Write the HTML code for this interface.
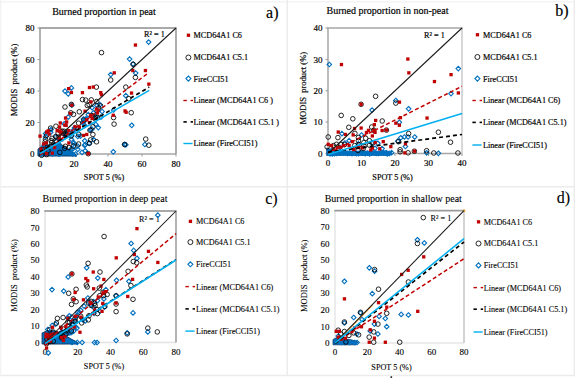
<!DOCTYPE html><html><head><meta charset="utf-8"><style>
html,body{margin:0;padding:0;background:#fff;width:575px;height:378px;overflow:hidden}
svg{display:block}
text{font-family:"Liberation Serif", serif;fill:#000;stroke:#000;stroke-width:0.18px}
.pc text,.pd text{stroke-width:0.1px}
</style></head><body>
<svg width="575" height="378" viewBox="0 0 575 378">
<rect x="0" y="0" width="575" height="378" fill="#fff"/>
<g stroke="#ececec" stroke-width="1.5" fill="none">
<line x1="0.5" y1="1.8" x2="575" y2="1.8" stroke="#f4f4f4"/>
<line x1="287.2" y1="0" x2="287.2" y2="376"/>
<line x1="0" y1="186.8" x2="575" y2="186.8"/>
<line x1="0" y1="375.5" x2="575" y2="375.5"/>
<line x1="0.5" y1="0" x2="0.5" y2="376" stroke="#f2f2f2"/>
<line x1="574.3" y1="0" x2="574.3" y2="376"/>
</g>
<g class="pa">
<line x1="40" y1="28" x2="40" y2="154" stroke="#999999" stroke-width="1.5"/>
<line x1="40" y1="154" x2="176" y2="154" stroke="#a6a6a6" stroke-width="1.5"/>
<line x1="39.3" y1="28" x2="176.7" y2="28" stroke="#8c8c8c" stroke-width="1.6"/>
<line x1="176" y1="28" x2="176" y2="154" stroke="#999999" stroke-width="1.6"/>
<line x1="37.5" y1="154.0" x2="40" y2="154.0" stroke="#9a9a9a" stroke-width="1"/>
<text x="34.5" y="157.1" text-anchor="end" font-size="9">0</text>
<line x1="37.5" y1="122.5" x2="40" y2="122.5" stroke="#9a9a9a" stroke-width="1"/>
<text x="34.5" y="125.6" text-anchor="end" font-size="9">20</text>
<line x1="37.5" y1="91.0" x2="40" y2="91.0" stroke="#9a9a9a" stroke-width="1"/>
<text x="34.5" y="94.1" text-anchor="end" font-size="9">40</text>
<line x1="37.5" y1="59.5" x2="40" y2="59.5" stroke="#9a9a9a" stroke-width="1"/>
<text x="34.5" y="62.6" text-anchor="end" font-size="9">60</text>
<line x1="37.5" y1="28.0" x2="40" y2="28.0" stroke="#9a9a9a" stroke-width="1"/>
<text x="34.5" y="31.1" text-anchor="end" font-size="9">80</text>
<line x1="40.0" y1="154" x2="40.0" y2="156.5" stroke="#9a9a9a" stroke-width="1"/>
<text x="40.0" y="166.5" text-anchor="middle" font-size="9">0</text>
<line x1="74.0" y1="154" x2="74.0" y2="156.5" stroke="#9a9a9a" stroke-width="1"/>
<text x="74.0" y="166.5" text-anchor="middle" font-size="9">20</text>
<line x1="108.0" y1="154" x2="108.0" y2="156.5" stroke="#9a9a9a" stroke-width="1"/>
<text x="108.0" y="166.5" text-anchor="middle" font-size="9">40</text>
<line x1="142.0" y1="154" x2="142.0" y2="156.5" stroke="#9a9a9a" stroke-width="1"/>
<text x="142.0" y="166.5" text-anchor="middle" font-size="9">60</text>
<line x1="176.0" y1="154" x2="176.0" y2="156.5" stroke="#9a9a9a" stroke-width="1"/>
<text x="176.0" y="166.5" text-anchor="middle" font-size="9">80</text>
<text x="104" y="14.5" text-anchor="middle" font-size="10">Burned proportion in peat</text>
<text x="278.5" y="18.2" text-anchor="end" font-size="16">a)</text>
<text x="104" y="180" text-anchor="middle" font-size="8.2">SPOT 5 (%)</text>
<text transform="translate(17.3,80) rotate(-90)" text-anchor="middle" font-size="8.5">MODIS&#160; product (%)</text>
<rect x="186.8" y="33.6" width="3.3" height="3.3" fill="#c00000"/>
<circle cx="188.4" cy="57.5" r="2.5" fill="none" stroke="#000" stroke-width="0.85"/>
<path d="M188.4 76.1L190.9 78.6L188.4 81.1L185.9 78.6Z" fill="none" stroke="#0070c0" stroke-width="1.1"/>
<rect x="183.4" y="99.8" width="3.4" height="1.4" fill="#c00000"/><rect x="190.6" y="99.8" width="2.4" height="1.4" fill="#c00000"/>
<rect x="183.4" y="121.10000000000001" width="3.4" height="1.6" fill="#000"/><rect x="190.6" y="121.10000000000001" width="2.4" height="1.6" fill="#000"/>
<rect x="183.4" y="142.8" width="9.2" height="1.4" fill="#00b0f0"/>
<text x="193.5" y="38.1" font-size="8.2">MCD64A1 C6</text>
<text x="193.5" y="60.4" font-size="8.2">MCD64A1 C5.1</text>
<text x="193.5" y="81.5" font-size="8.2">FireCCI51</text>
<text x="193.5" y="103.4" font-size="8.2">Linear (MCD64A1 C6 )</text>
<text x="193.5" y="124.8" font-size="8.2">Linear (MCD64A1 C5.1 )</text>
<text x="193.5" y="146.4" font-size="8.2">Linear (FireCCI51)</text>
<text x="144" y="36.6" font-size="8.2">R² = 1</text>
<path d="M38,149 L44,146 L52,144 L58,143 L64,146 L70,151 L75,154 L77,156 L38,156 Z" fill="#0070c0" stroke="#0a3a6a" stroke-width="1"/>
<path d="M148.6 39.8L150.9 42.1L148.6 44.4L146.3 42.1Z" fill="none" stroke="#0070c0" stroke-width="1.1"/>
<path d="M129.6 56.8L131.9 59.1L129.6 61.4L127.3 59.1Z" fill="none" stroke="#0070c0" stroke-width="1.1"/>
<path d="M133.1 61.7L135.4 64.0L133.1 66.3L130.8 64.0Z" fill="none" stroke="#0070c0" stroke-width="1.1"/>
<path d="M135.7 70.8L138.0 73.1L135.7 75.4L133.4 73.1Z" fill="none" stroke="#0070c0" stroke-width="1.1"/>
<path d="M110.7 72.3L113.0 74.6L110.7 76.9L108.4 74.6Z" fill="none" stroke="#0070c0" stroke-width="1.1"/>
<path d="M65.0 88.8L67.3 91.1L65.0 93.4L62.7 91.1Z" fill="none" stroke="#0070c0" stroke-width="1.1"/>
<path d="M68.2 91.5L70.5 93.8L68.2 96.1L65.9 93.8Z" fill="none" stroke="#0070c0" stroke-width="1.1"/>
<path d="M71.4 85.6L73.7 87.9L71.4 90.2L69.1 87.9Z" fill="none" stroke="#0070c0" stroke-width="1.1"/>
<path d="M71.9 102.9L74.2 105.2L71.9 107.5L69.6 105.2Z" fill="none" stroke="#0070c0" stroke-width="1.1"/>
<path d="M68.2 114.8L70.5 117.1L68.2 119.4L65.9 117.1Z" fill="none" stroke="#0070c0" stroke-width="1.1"/>
<path d="M131.7 123.0L134.0 125.3L131.7 127.6L129.4 125.3Z" fill="none" stroke="#0070c0" stroke-width="1.1"/>
<path d="M113.6 107.7L115.9 110.0L113.6 112.3L111.3 110.0Z" fill="none" stroke="#0070c0" stroke-width="1.1"/>
<path d="M124.6 142.2L126.9 144.5L124.6 146.8L122.3 144.5Z" fill="none" stroke="#0070c0" stroke-width="1.1"/>
<path d="M113.3 149.5L115.6 151.8L113.3 154.1L111.0 151.8Z" fill="none" stroke="#0070c0" stroke-width="1.1"/>
<path d="M93.7 137.3L96.0 139.6L93.7 141.9L91.4 139.6Z" fill="none" stroke="#0070c0" stroke-width="1.1"/>
<path d="M98.3 125.3L100.6 127.6L98.3 129.9L96.0 127.6Z" fill="none" stroke="#0070c0" stroke-width="1.1"/>
<path d="M90.6 127.6L92.9 129.9L90.6 132.2L88.3 129.9Z" fill="none" stroke="#0070c0" stroke-width="1.1"/>
<path d="M102.1 109.2L104.4 111.5L102.1 113.8L99.8 111.5Z" fill="none" stroke="#0070c0" stroke-width="1.1"/>
<path d="M92.1 105.4L94.4 107.7L92.1 110.0L89.8 107.7Z" fill="none" stroke="#0070c0" stroke-width="1.1"/>
<path d="M88.3 112.3L90.6 114.6L88.3 116.9L86.0 114.6Z" fill="none" stroke="#0070c0" stroke-width="1.1"/>
<path d="M144.9 142.2L147.2 144.5L144.9 146.8L142.6 144.5Z" fill="none" stroke="#0070c0" stroke-width="1.1"/>
<path d="M125.8 142.5L128.1 144.8L125.8 147.1L123.5 144.8Z" fill="none" stroke="#0070c0" stroke-width="1.1"/>
<path d="M125.8 93.4L128.1 95.7L125.8 98.0L123.5 95.7Z" fill="none" stroke="#0070c0" stroke-width="1.1"/>
<path d="M51.1 127.3L53.4 129.6L51.1 131.9L48.8 129.6Z" fill="none" stroke="#0070c0" stroke-width="1.1"/>
<path d="M45.6 134.3L47.9 136.6L45.6 138.9L43.3 136.6Z" fill="none" stroke="#0070c0" stroke-width="1.1"/>
<path d="M95.8 122.1L98.1 124.4L95.8 126.7L93.5 124.4Z" fill="none" stroke="#0070c0" stroke-width="1.1"/>
<path d="M77.8 134.2L80.1 136.5L77.8 138.8L75.5 136.5Z" fill="none" stroke="#0070c0" stroke-width="1.1"/>
<path d="M77.8 147.0L80.1 149.3L77.8 151.6L75.5 149.3Z" fill="none" stroke="#0070c0" stroke-width="1.1"/>
<path d="M82.0 150.1L84.3 152.4L82.0 154.7L79.7 152.4Z" fill="none" stroke="#0070c0" stroke-width="1.1"/>
<path d="M85.2 148.5L87.5 150.8L85.2 153.1L82.9 150.8Z" fill="none" stroke="#0070c0" stroke-width="1.1"/>
<path d="M82.8 120.5L85.1 122.8L82.8 125.1L80.5 122.8Z" fill="none" stroke="#0070c0" stroke-width="1.1"/>
<path d="M96.9 103.2L99.2 105.5L96.9 107.8L94.6 105.5Z" fill="none" stroke="#0070c0" stroke-width="1.1"/>
<path d="M65.2 131.9L67.5 134.2L65.2 136.5L62.9 134.2Z" fill="none" stroke="#0070c0" stroke-width="1.1"/>
<path d="M71.8 133.4L74.1 135.7L71.8 138.0L69.5 135.7Z" fill="none" stroke="#0070c0" stroke-width="1.1"/>
<path d="M84.6 123.0L86.9 125.3L84.6 127.6L82.3 125.3Z" fill="none" stroke="#0070c0" stroke-width="1.1"/>
<path d="M74.6 125.4L76.9 127.7L74.6 130.0L72.3 127.7Z" fill="none" stroke="#0070c0" stroke-width="1.1"/>
<path d="M50.2 145.3L52.5 147.6L50.2 149.9L47.9 147.6Z" fill="none" stroke="#0070c0" stroke-width="1.1"/>
<path d="M91.9 126.9L94.2 129.2L91.9 131.5L89.6 129.2Z" fill="none" stroke="#0070c0" stroke-width="1.1"/>
<path d="M49.9 149.6L52.2 151.9L49.9 154.2L47.6 151.9Z" fill="none" stroke="#0070c0" stroke-width="1.1"/>
<path d="M93.4 110.6L95.7 112.9L93.4 115.2L91.1 112.9Z" fill="none" stroke="#0070c0" stroke-width="1.1"/>
<path d="M46.9 148.4L49.2 150.7L46.9 153.0L44.6 150.7Z" fill="none" stroke="#0070c0" stroke-width="1.1"/>
<path d="M73.7 127.5L76.0 129.8L73.7 132.1L71.4 129.8Z" fill="none" stroke="#0070c0" stroke-width="1.1"/>
<path d="M80.4 133.8L82.7 136.1L80.4 138.4L78.1 136.1Z" fill="none" stroke="#0070c0" stroke-width="1.1"/>
<path d="M83.5 119.5L85.8 121.8L83.5 124.1L81.2 121.8Z" fill="none" stroke="#0070c0" stroke-width="1.1"/>
<path d="M86.1 116.4L88.4 118.7L86.1 121.0L83.8 118.7Z" fill="none" stroke="#0070c0" stroke-width="1.1"/>
<path d="M48.7 146.5L51.0 148.8L48.7 151.1L46.4 148.8Z" fill="none" stroke="#0070c0" stroke-width="1.1"/>
<path d="M96.0 114.5L98.3 116.8L96.0 119.1L93.7 116.8Z" fill="none" stroke="#0070c0" stroke-width="1.1"/>
<path d="M68.7 129.7L71.0 132.0L68.7 134.3L66.4 132.0Z" fill="none" stroke="#0070c0" stroke-width="1.1"/>
<path d="M83.4 116.7L85.7 119.0L83.4 121.3L81.1 119.0Z" fill="none" stroke="#0070c0" stroke-width="1.1"/>
<path d="M44.4 142.6L46.7 144.9L44.4 147.2L42.1 144.9Z" fill="none" stroke="#0070c0" stroke-width="1.1"/>
<path d="M57.4 142.8L59.7 145.1L57.4 147.4L55.1 145.1Z" fill="none" stroke="#0070c0" stroke-width="1.1"/>
<path d="M56.1 139.0L58.4 141.3L56.1 143.6L53.8 141.3Z" fill="none" stroke="#0070c0" stroke-width="1.1"/>
<path d="M47.1 146.2L49.4 148.5L47.1 150.8L44.8 148.5Z" fill="none" stroke="#0070c0" stroke-width="1.1"/>
<path d="M100.0 102.4L102.3 104.7L100.0 107.0L97.7 104.7Z" fill="none" stroke="#0070c0" stroke-width="1.1"/>
<path d="M73.1 128.8L75.4 131.1L73.1 133.4L70.8 131.1Z" fill="none" stroke="#0070c0" stroke-width="1.1"/>
<path d="M42.9 148.5L45.2 150.8L42.9 153.1L40.6 150.8Z" fill="none" stroke="#0070c0" stroke-width="1.1"/>
<path d="M66.7 130.1L69.0 132.4L66.7 134.7L64.4 132.4Z" fill="none" stroke="#0070c0" stroke-width="1.1"/>
<path d="M100.9 114.9L103.2 117.2L100.9 119.5L98.6 117.2Z" fill="none" stroke="#0070c0" stroke-width="1.1"/>
<path d="M64.2 121.5L66.5 123.8L64.2 126.1L61.9 123.8Z" fill="none" stroke="#0070c0" stroke-width="1.1"/>
<path d="M85.2 142.4L87.5 144.7L85.2 147.0L82.9 144.7Z" fill="none" stroke="#0070c0" stroke-width="1.1"/>
<path d="M73.8 141.2L76.1 143.5L73.8 145.8L71.5 143.5Z" fill="none" stroke="#0070c0" stroke-width="1.1"/>
<path d="M89.3 140.9L91.6 143.2L89.3 145.5L87.0 143.2Z" fill="none" stroke="#0070c0" stroke-width="1.1"/>
<path d="M71.2 146.5L73.5 148.8L71.2 151.1L68.9 148.8Z" fill="none" stroke="#0070c0" stroke-width="1.1"/>
<path d="M84.7 138.5L87.0 140.8L84.7 143.1L82.4 140.8Z" fill="none" stroke="#0070c0" stroke-width="1.1"/>
<path d="M77.6 143.7L79.9 146.0L77.6 148.3L75.3 146.0Z" fill="none" stroke="#0070c0" stroke-width="1.1"/>
<path d="M84.6 143.2L86.9 145.5L84.6 147.8L82.3 145.5Z" fill="none" stroke="#0070c0" stroke-width="1.1"/>
<path d="M73.2 139.9L75.5 142.2L73.2 144.5L70.9 142.2Z" fill="none" stroke="#0070c0" stroke-width="1.1"/>
<path d="M58.5 141.2L60.8 143.5L58.5 145.8L56.2 143.5Z" fill="none" stroke="#0070c0" stroke-width="1.1"/>
<path d="M45.6 131.2L47.9 133.5L45.6 135.8L43.3 133.5Z" fill="none" stroke="#0070c0" stroke-width="1.1"/>
<path d="M55.8 134.7L58.1 137.0L55.8 139.3L53.5 137.0Z" fill="none" stroke="#0070c0" stroke-width="1.1"/>
<path d="M72.8 146.5L75.1 148.8L72.8 151.1L70.5 148.8Z" fill="none" stroke="#0070c0" stroke-width="1.1"/>
<path d="M52.5 146.6L54.8 148.9L52.5 151.2L50.2 148.9Z" fill="none" stroke="#0070c0" stroke-width="1.1"/>
<path d="M65.6 134.1L67.9 136.4L65.6 138.7L63.3 136.4Z" fill="none" stroke="#0070c0" stroke-width="1.1"/>
<path d="M71.5 137.2L73.8 139.5L71.5 141.8L69.2 139.5Z" fill="none" stroke="#0070c0" stroke-width="1.1"/>
<path d="M44.9 150.9L47.2 153.2L44.9 155.5L42.6 153.2Z" fill="none" stroke="#0070c0" stroke-width="1.1"/>
<path d="M41.7 148.4L44.0 150.7L41.7 153.0L39.4 150.7Z" fill="none" stroke="#0070c0" stroke-width="1.1"/>
<path d="M50.7 130.0L53.0 132.3L50.7 134.6L48.4 132.3Z" fill="none" stroke="#0070c0" stroke-width="1.1"/>
<path d="M42.6 145.1L44.9 147.4L42.6 149.7L40.3 147.4Z" fill="none" stroke="#0070c0" stroke-width="1.1"/>
<path d="M41.6 151.7L43.9 154.0L41.6 156.3L39.3 154.0Z" fill="none" stroke="#0070c0" stroke-width="1.1"/>
<path d="M59.7 151.7L62.0 154.0L59.7 156.3L57.4 154.0Z" fill="none" stroke="#0070c0" stroke-width="1.1"/>
<path d="M75.6 151.7L77.9 154.0L75.6 156.3L73.3 154.0Z" fill="none" stroke="#0070c0" stroke-width="1.1"/>
<path d="M58.7 151.7L61.0 154.0L58.7 156.3L56.4 154.0Z" fill="none" stroke="#0070c0" stroke-width="1.1"/>
<path d="M52.6 151.7L54.9 154.0L52.6 156.3L50.3 154.0Z" fill="none" stroke="#0070c0" stroke-width="1.1"/>
<path d="M43.4 151.7L45.7 154.0L43.4 156.3L41.1 154.0Z" fill="none" stroke="#0070c0" stroke-width="1.1"/>
<path d="M72.4 151.7L74.7 154.0L72.4 156.3L70.1 154.0Z" fill="none" stroke="#0070c0" stroke-width="1.1"/>
<circle cx="101.5" cy="52.6" r="2.3" fill="none" stroke="#000" stroke-width="0.85"/>
<circle cx="133.1" cy="64.3" r="2.3" fill="none" stroke="#000" stroke-width="0.85"/>
<circle cx="135.4" cy="77.4" r="2.3" fill="none" stroke="#000" stroke-width="0.85"/>
<circle cx="110.7" cy="80.0" r="2.3" fill="none" stroke="#000" stroke-width="0.85"/>
<circle cx="82.5" cy="99.6" r="2.3" fill="none" stroke="#000" stroke-width="0.85"/>
<circle cx="85.7" cy="100.1" r="2.3" fill="none" stroke="#000" stroke-width="0.85"/>
<circle cx="65.0" cy="107.0" r="2.3" fill="none" stroke="#000" stroke-width="0.85"/>
<circle cx="71.4" cy="104.4" r="2.3" fill="none" stroke="#000" stroke-width="0.85"/>
<circle cx="79.3" cy="111.8" r="2.3" fill="none" stroke="#000" stroke-width="0.85"/>
<circle cx="70.8" cy="112.8" r="2.3" fill="none" stroke="#000" stroke-width="0.85"/>
<circle cx="73.5" cy="114.4" r="2.3" fill="none" stroke="#000" stroke-width="0.85"/>
<circle cx="87.3" cy="105.4" r="2.3" fill="none" stroke="#000" stroke-width="0.85"/>
<circle cx="131.2" cy="112.7" r="2.3" fill="none" stroke="#000" stroke-width="0.85"/>
<circle cx="113.6" cy="117.6" r="2.3" fill="none" stroke="#000" stroke-width="0.85"/>
<circle cx="114.1" cy="124.1" r="2.3" fill="none" stroke="#000" stroke-width="0.85"/>
<circle cx="124.6" cy="144.5" r="2.3" fill="none" stroke="#000" stroke-width="0.85"/>
<circle cx="88.3" cy="153.7" r="2.3" fill="none" stroke="#000" stroke-width="0.85"/>
<circle cx="90.6" cy="139.9" r="2.3" fill="none" stroke="#000" stroke-width="0.85"/>
<circle cx="92.9" cy="134.5" r="2.3" fill="none" stroke="#000" stroke-width="0.85"/>
<circle cx="92.9" cy="126.8" r="2.3" fill="none" stroke="#000" stroke-width="0.85"/>
<circle cx="100.6" cy="106.1" r="2.3" fill="none" stroke="#000" stroke-width="0.85"/>
<circle cx="89.1" cy="104.6" r="2.3" fill="none" stroke="#000" stroke-width="0.85"/>
<circle cx="96.7" cy="101.5" r="2.3" fill="none" stroke="#000" stroke-width="0.85"/>
<circle cx="145.7" cy="139.1" r="2.3" fill="none" stroke="#000" stroke-width="0.85"/>
<circle cx="148.8" cy="145.2" r="2.3" fill="none" stroke="#000" stroke-width="0.85"/>
<circle cx="96.4" cy="87.1" r="2.3" fill="none" stroke="#000" stroke-width="0.85"/>
<circle cx="91.3" cy="99.9" r="2.3" fill="none" stroke="#000" stroke-width="0.85"/>
<circle cx="125.8" cy="87.1" r="2.3" fill="none" stroke="#000" stroke-width="0.85"/>
<circle cx="128.8" cy="98.7" r="2.3" fill="none" stroke="#000" stroke-width="0.85"/>
<circle cx="50.6" cy="128.1" r="2.3" fill="none" stroke="#000" stroke-width="0.85"/>
<circle cx="58.1" cy="133.1" r="2.3" fill="none" stroke="#000" stroke-width="0.85"/>
<circle cx="90.0" cy="130.2" r="2.3" fill="none" stroke="#000" stroke-width="0.85"/>
<circle cx="77.8" cy="128.6" r="2.3" fill="none" stroke="#000" stroke-width="0.85"/>
<circle cx="78.8" cy="134.4" r="2.3" fill="none" stroke="#000" stroke-width="0.85"/>
<circle cx="73.5" cy="146.1" r="2.3" fill="none" stroke="#000" stroke-width="0.85"/>
<circle cx="69.0" cy="147.5" r="2.3" fill="none" stroke="#000" stroke-width="0.85"/>
<circle cx="65.0" cy="133.6" r="2.3" fill="none" stroke="#000" stroke-width="0.85"/>
<circle cx="45.4" cy="139.3" r="2.3" fill="none" stroke="#000" stroke-width="0.85"/>
<circle cx="95.0" cy="117.1" r="2.3" fill="none" stroke="#000" stroke-width="0.85"/>
<circle cx="46.6" cy="154.6" r="2.3" fill="none" stroke="#000" stroke-width="0.85"/>
<circle cx="91.9" cy="115.6" r="2.3" fill="none" stroke="#000" stroke-width="0.85"/>
<circle cx="78.6" cy="123.2" r="2.3" fill="none" stroke="#000" stroke-width="0.85"/>
<circle cx="98.6" cy="107.9" r="2.3" fill="none" stroke="#000" stroke-width="0.85"/>
<circle cx="48.0" cy="150.6" r="2.3" fill="none" stroke="#000" stroke-width="0.85"/>
<circle cx="55.7" cy="136.6" r="2.3" fill="none" stroke="#000" stroke-width="0.85"/>
<circle cx="41.6" cy="155.3" r="2.3" fill="none" stroke="#000" stroke-width="0.85"/>
<circle cx="42.5" cy="149.6" r="2.3" fill="none" stroke="#000" stroke-width="0.85"/>
<circle cx="83.9" cy="120.1" r="2.3" fill="none" stroke="#000" stroke-width="0.85"/>
<circle cx="58.3" cy="137.3" r="2.3" fill="none" stroke="#000" stroke-width="0.85"/>
<circle cx="97.1" cy="110.7" r="2.3" fill="none" stroke="#000" stroke-width="0.85"/>
<circle cx="95.2" cy="118.9" r="2.3" fill="none" stroke="#000" stroke-width="0.85"/>
<circle cx="51.7" cy="142.5" r="2.3" fill="none" stroke="#000" stroke-width="0.85"/>
<circle cx="62.3" cy="131.2" r="2.3" fill="none" stroke="#000" stroke-width="0.85"/>
<circle cx="97.4" cy="117.4" r="2.3" fill="none" stroke="#000" stroke-width="0.85"/>
<circle cx="63.1" cy="133.2" r="2.3" fill="none" stroke="#000" stroke-width="0.85"/>
<circle cx="64.2" cy="131.3" r="2.3" fill="none" stroke="#000" stroke-width="0.85"/>
<circle cx="78.6" cy="144.0" r="2.3" fill="none" stroke="#000" stroke-width="0.85"/>
<circle cx="96.5" cy="141.8" r="2.3" fill="none" stroke="#000" stroke-width="0.85"/>
<circle cx="89.4" cy="143.3" r="2.3" fill="none" stroke="#000" stroke-width="0.85"/>
<circle cx="47.2" cy="147.4" r="2.3" fill="none" stroke="#000" stroke-width="0.85"/>
<circle cx="59.8" cy="130.8" r="2.3" fill="none" stroke="#000" stroke-width="0.85"/>
<circle cx="67.0" cy="135.1" r="2.3" fill="none" stroke="#000" stroke-width="0.85"/>
<circle cx="52.0" cy="138.3" r="2.3" fill="none" stroke="#000" stroke-width="0.85"/>
<circle cx="65.4" cy="146.3" r="2.3" fill="none" stroke="#000" stroke-width="0.85"/>
<circle cx="64.6" cy="148.4" r="2.3" fill="none" stroke="#000" stroke-width="0.85"/>
<circle cx="55.9" cy="126.2" r="2.3" fill="none" stroke="#000" stroke-width="0.85"/>
<circle cx="51.1" cy="140.6" r="2.3" fill="none" stroke="#000" stroke-width="0.85"/>
<circle cx="45.2" cy="141.8" r="2.3" fill="none" stroke="#000" stroke-width="0.85"/>
<circle cx="71.1" cy="135.9" r="2.3" fill="none" stroke="#000" stroke-width="0.85"/>
<circle cx="46.7" cy="135.2" r="2.3" fill="none" stroke="#000" stroke-width="0.85"/>
<circle cx="59.8" cy="152.4" r="2.3" fill="none" stroke="#000" stroke-width="0.85"/>
<rect x="133.8" y="43.4" width="3.3" height="3.3" fill="#c00000"/>
<rect x="131.2" y="68.9" width="3.3" height="3.3" fill="#c00000"/>
<rect x="143.8" y="68.9" width="3.3" height="3.3" fill="#c00000"/>
<rect x="112.6" y="71.2" width="3.3" height="3.3" fill="#c00000"/>
<rect x="147.2" y="82.5" width="3.3" height="3.3" fill="#c00000"/>
<rect x="129.9" y="91.4" width="3.3" height="3.3" fill="#c00000"/>
<rect x="67.0" y="87.0" width="3.3" height="3.3" fill="#c00000"/>
<rect x="69.8" y="90.8" width="3.3" height="3.3" fill="#c00000"/>
<rect x="80.8" y="91.0" width="3.3" height="3.3" fill="#c00000"/>
<rect x="70.2" y="103.5" width="3.3" height="3.3" fill="#c00000"/>
<rect x="68.6" y="111.8" width="3.3" height="3.3" fill="#c00000"/>
<rect x="63.9" y="116.4" width="3.3" height="3.3" fill="#c00000"/>
<rect x="83.4" y="109.6" width="3.3" height="3.3" fill="#c00000"/>
<rect x="123.4" y="109.3" width="3.3" height="3.3" fill="#c00000"/>
<rect x="124.5" y="110.6" width="3.3" height="3.3" fill="#c00000"/>
<rect x="111.6" y="113.6" width="3.3" height="3.3" fill="#c00000"/>
<rect x="86.6" y="152.0" width="3.3" height="3.3" fill="#c00000"/>
<rect x="85.1" y="132.8" width="3.3" height="3.3" fill="#c00000"/>
<rect x="95.0" y="107.5" width="3.3" height="3.3" fill="#c00000"/>
<rect x="95.8" y="111.3" width="3.3" height="3.3" fill="#c00000"/>
<rect x="90.4" y="116.8" width="3.3" height="3.3" fill="#c00000"/>
<rect x="88.9" y="113.6" width="3.3" height="3.3" fill="#c00000"/>
<rect x="87.8" y="85.9" width="3.3" height="3.3" fill="#c00000"/>
<rect x="91.6" y="85.4" width="3.3" height="3.3" fill="#c00000"/>
<rect x="99.1" y="91.0" width="3.3" height="3.3" fill="#c00000"/>
<rect x="99.8" y="93.1" width="3.3" height="3.3" fill="#c00000"/>
<rect x="89.3" y="100.2" width="3.3" height="3.3" fill="#c00000"/>
<rect x="58.6" y="121.3" width="3.3" height="3.3" fill="#c00000"/>
<rect x="63.1" y="123.3" width="3.3" height="3.3" fill="#c00000"/>
<rect x="65.0" y="120.3" width="3.3" height="3.3" fill="#c00000"/>
<rect x="45.0" y="130.4" width="3.3" height="3.3" fill="#c00000"/>
<rect x="46.5" y="129.2" width="3.3" height="3.3" fill="#c00000"/>
<rect x="47.5" y="132.4" width="3.3" height="3.3" fill="#c00000"/>
<rect x="55.5" y="128.9" width="3.3" height="3.3" fill="#c00000"/>
<rect x="58.1" y="129.4" width="3.3" height="3.3" fill="#c00000"/>
<rect x="60.1" y="130.9" width="3.3" height="3.3" fill="#c00000"/>
<rect x="81.9" y="133.8" width="3.3" height="3.3" fill="#c00000"/>
<rect x="67.1" y="129.0" width="3.3" height="3.3" fill="#c00000"/>
<rect x="73.3" y="125.1" width="3.3" height="3.3" fill="#c00000"/>
<rect x="39.7" y="150.0" width="3.3" height="3.3" fill="#c00000"/>
<rect x="52.9" y="145.9" width="3.3" height="3.3" fill="#c00000"/>
<rect x="39.4" y="147.3" width="3.3" height="3.3" fill="#c00000"/>
<rect x="57.3" y="136.2" width="3.3" height="3.3" fill="#c00000"/>
<rect x="85.1" y="118.2" width="3.3" height="3.3" fill="#c00000"/>
<rect x="77.7" y="125.4" width="3.3" height="3.3" fill="#c00000"/>
<rect x="87.9" y="120.9" width="3.3" height="3.3" fill="#c00000"/>
<rect x="60.1" y="138.2" width="3.3" height="3.3" fill="#c00000"/>
<rect x="67.2" y="141.3" width="3.3" height="3.3" fill="#c00000"/>
<rect x="38.4" y="134.5" width="3.3" height="3.3" fill="#c00000"/>
<rect x="50.6" y="151.5" width="3.3" height="3.3" fill="#c00000"/>
<rect x="44.9" y="152.0" width="3.3" height="3.3" fill="#c00000"/>
<rect x="59.3" y="132.3" width="3.3" height="3.3" fill="#c00000"/>
<rect x="64.5" y="123.7" width="3.3" height="3.3" fill="#c00000"/>
<rect x="44.7" y="141.3" width="3.3" height="3.3" fill="#c00000"/>
<rect x="41.9" y="142.4" width="3.3" height="3.3" fill="#c00000"/>
<rect x="44.1" y="147.3" width="3.3" height="3.3" fill="#c00000"/>
<rect x="57.9" y="125.3" width="3.3" height="3.3" fill="#c00000"/>
<line x1="40" y1="154" x2="176" y2="28" stroke="#1a1a1a" stroke-width="1.05"/>
<line x1="40" y1="155" x2="148.5" y2="72.8" stroke="#c00000" stroke-width="1.5" stroke-dasharray="4,2.5"/>
<line x1="40" y1="152" x2="149.2" y2="87.1" stroke="#000" stroke-width="1.7" stroke-dasharray="4,3"/>
<line x1="40" y1="153.5" x2="149.2" y2="90.4" stroke="#00b0f0" stroke-width="1.5"/>
</g>
<g class="pb">
<line x1="328" y1="28" x2="328" y2="153.5" stroke="#a6a6a6" stroke-width="1.5"/>
<line x1="328" y1="153.5" x2="462" y2="153.5" stroke="#a6a6a6" stroke-width="1.5"/>
<line x1="327.3" y1="28" x2="462.7" y2="28" stroke="#a6a6a6" stroke-width="1.6"/>
<line x1="462" y1="28" x2="462" y2="153.5" stroke="#cfcfcf" stroke-width="1.6"/>
<line x1="325.5" y1="153.5" x2="328" y2="153.5" stroke="#9a9a9a" stroke-width="1"/>
<text x="322.5" y="156.6" text-anchor="end" font-size="9">0</text>
<line x1="325.5" y1="122.1" x2="328" y2="122.1" stroke="#9a9a9a" stroke-width="1"/>
<text x="322.5" y="125.2" text-anchor="end" font-size="9">10</text>
<line x1="325.5" y1="90.8" x2="328" y2="90.8" stroke="#9a9a9a" stroke-width="1"/>
<text x="322.5" y="93.8" text-anchor="end" font-size="9">20</text>
<line x1="325.5" y1="59.4" x2="328" y2="59.4" stroke="#9a9a9a" stroke-width="1"/>
<text x="322.5" y="62.5" text-anchor="end" font-size="9">30</text>
<line x1="325.5" y1="28.0" x2="328" y2="28.0" stroke="#9a9a9a" stroke-width="1"/>
<text x="322.5" y="31.1" text-anchor="end" font-size="9">40</text>
<line x1="328.0" y1="153.5" x2="328.0" y2="156.0" stroke="#9a9a9a" stroke-width="1"/>
<text x="328.0" y="166.0" text-anchor="middle" font-size="9">0</text>
<line x1="361.5" y1="153.5" x2="361.5" y2="156.0" stroke="#9a9a9a" stroke-width="1"/>
<text x="361.5" y="166.0" text-anchor="middle" font-size="9">10</text>
<line x1="395.0" y1="153.5" x2="395.0" y2="156.0" stroke="#9a9a9a" stroke-width="1"/>
<text x="395.0" y="166.0" text-anchor="middle" font-size="9">20</text>
<line x1="428.5" y1="153.5" x2="428.5" y2="156.0" stroke="#9a9a9a" stroke-width="1"/>
<text x="428.5" y="166.0" text-anchor="middle" font-size="9">30</text>
<line x1="462.0" y1="153.5" x2="462.0" y2="156.0" stroke="#9a9a9a" stroke-width="1"/>
<text x="462.0" y="166.0" text-anchor="middle" font-size="9">40</text>
<text x="387.5" y="14.2" text-anchor="middle" font-size="10">Burned proportion in non-peat</text>
<text x="568.5" y="16.2" text-anchor="end" font-size="16">b)</text>
<text x="392.5" y="180" text-anchor="middle" font-size="8.2">SPOT 5 (%)</text>
<text transform="translate(305.8,88.2) rotate(-90)" text-anchor="middle" font-size="8.5">MODIS&#160; product (%)</text>
<rect x="475.8" y="33.1" width="3.3" height="3.3" fill="#c00000"/>
<circle cx="477.4" cy="57.0" r="2.5" fill="none" stroke="#000" stroke-width="0.85"/>
<path d="M477.4 76.1L479.9 78.6L477.4 81.1L474.9 78.6Z" fill="none" stroke="#0070c0" stroke-width="1.1"/>
<rect x="472.4" y="99.8" width="3.4" height="1.4" fill="#c00000"/><rect x="479.59999999999997" y="99.8" width="2.4" height="1.4" fill="#c00000"/>
<rect x="472.4" y="121.60000000000001" width="3.4" height="1.6" fill="#000"/><rect x="479.59999999999997" y="121.60000000000001" width="2.4" height="1.6" fill="#000"/>
<rect x="472.4" y="144.3" width="9.2" height="1.4" fill="#00b0f0"/>
<text x="483" y="37.7" font-size="8.2">MCD64A1 C6</text>
<text x="483" y="59.9" font-size="8.2">MCD64A1 C5.1</text>
<text x="483" y="81.5" font-size="8.2">FireCCI51</text>
<text x="483" y="103.4" font-size="8.2">Linear (MCD64A1 C6)</text>
<text x="483" y="125.3" font-size="8.2">Linear (MCD64A1 C5.1)</text>
<text x="483" y="147.9" font-size="8.2">Linear (FireCCI51)</text>
<text x="424" y="38" font-size="8.2">R² = 1</text>
<path d="M326.5,148 L332,149.5 L345,151 L390,151.3 L392,153 L390,155.5 L326.5,155.5 Z" fill="#0070c0" stroke="#0a4a8a" stroke-width="0.6"/>
<path d="M329.3 62.2L331.6 64.5L329.3 66.8L327.0 64.5Z" fill="none" stroke="#0070c0" stroke-width="1.1"/>
<path d="M458.3 66.3L460.6 68.6L458.3 70.9L456.0 68.6Z" fill="none" stroke="#0070c0" stroke-width="1.1"/>
<path d="M451.0 91.3L453.3 93.6L451.0 95.9L448.7 93.6Z" fill="none" stroke="#0070c0" stroke-width="1.1"/>
<path d="M372.1 107.8L374.4 110.1L372.1 112.4L369.8 110.1Z" fill="none" stroke="#0070c0" stroke-width="1.1"/>
<path d="M341.9 131.4L344.2 133.7L341.9 136.0L339.6 133.7Z" fill="none" stroke="#0070c0" stroke-width="1.1"/>
<path d="M361.5 132.7L363.8 135.0L361.5 137.3L359.2 135.0Z" fill="none" stroke="#0070c0" stroke-width="1.1"/>
<path d="M395.8 98.2L398.1 100.5L395.8 102.8L393.5 100.5Z" fill="none" stroke="#0070c0" stroke-width="1.1"/>
<path d="M408.6 106.5L410.9 108.8L408.6 111.1L406.3 108.8Z" fill="none" stroke="#0070c0" stroke-width="1.1"/>
<path d="M399.3 120.0L401.6 122.3L399.3 124.6L397.0 122.3Z" fill="none" stroke="#0070c0" stroke-width="1.1"/>
<path d="M414.7 134.7L417.0 137.0L414.7 139.3L412.4 137.0Z" fill="none" stroke="#0070c0" stroke-width="1.1"/>
<path d="M408.1 134.7L410.4 137.0L408.1 139.3L405.8 137.0Z" fill="none" stroke="#0070c0" stroke-width="1.1"/>
<path d="M404.4 134.7L406.7 137.0L404.4 139.3L402.1 137.0Z" fill="none" stroke="#0070c0" stroke-width="1.1"/>
<path d="M400.7 135.5L403.0 137.8L400.7 140.1L398.4 137.8Z" fill="none" stroke="#0070c0" stroke-width="1.1"/>
<path d="M397.8 138.9L400.1 141.2L397.8 143.5L395.5 141.2Z" fill="none" stroke="#0070c0" stroke-width="1.1"/>
<path d="M405.4 144.2L407.7 146.5L405.4 148.8L403.1 146.5Z" fill="none" stroke="#0070c0" stroke-width="1.1"/>
<path d="M382.1 146.3L384.4 148.6L382.1 150.9L379.8 148.6Z" fill="none" stroke="#0070c0" stroke-width="1.1"/>
<path d="M383.2 150.5L385.5 152.8L383.2 155.1L380.9 152.8Z" fill="none" stroke="#0070c0" stroke-width="1.1"/>
<path d="M386.4 150.5L388.7 152.8L386.4 155.1L384.1 152.8Z" fill="none" stroke="#0070c0" stroke-width="1.1"/>
<path d="M426.6 150.5L428.9 152.8L426.6 155.1L424.3 152.8Z" fill="none" stroke="#0070c0" stroke-width="1.1"/>
<path d="M438.4 151.0L440.7 153.3L438.4 155.6L436.1 153.3Z" fill="none" stroke="#0070c0" stroke-width="1.1"/>
<path d="M349.1 138.4L351.4 140.7L349.1 143.0L346.8 140.7Z" fill="none" stroke="#0070c0" stroke-width="1.1"/>
<path d="M375.0 146.0L377.3 148.3L375.0 150.6L372.7 148.3Z" fill="none" stroke="#0070c0" stroke-width="1.1"/>
<path d="M330.0 151.5L332.3 153.8L330.0 156.1L327.7 153.8Z" fill="none" stroke="#0070c0" stroke-width="1.1"/>
<path d="M332.2 151.5L334.5 153.8L332.2 156.1L329.9 153.8Z" fill="none" stroke="#0070c0" stroke-width="1.1"/>
<path d="M334.4 151.3L336.7 153.6L334.4 155.9L332.1 153.6Z" fill="none" stroke="#0070c0" stroke-width="1.1"/>
<path d="M336.6 151.1L338.9 153.4L336.6 155.7L334.3 153.4Z" fill="none" stroke="#0070c0" stroke-width="1.1"/>
<path d="M338.8 150.7L341.1 153.0L338.8 155.3L336.5 153.0Z" fill="none" stroke="#0070c0" stroke-width="1.1"/>
<path d="M341.0 150.6L343.3 152.9L341.0 155.2L338.7 152.9Z" fill="none" stroke="#0070c0" stroke-width="1.1"/>
<path d="M343.2 150.6L345.5 152.9L343.2 155.2L340.9 152.9Z" fill="none" stroke="#0070c0" stroke-width="1.1"/>
<path d="M345.4 150.4L347.7 152.7L345.4 155.0L343.1 152.7Z" fill="none" stroke="#0070c0" stroke-width="1.1"/>
<path d="M347.6 151.2L349.9 153.5L347.6 155.8L345.3 153.5Z" fill="none" stroke="#0070c0" stroke-width="1.1"/>
<path d="M349.8 150.8L352.1 153.1L349.8 155.4L347.5 153.1Z" fill="none" stroke="#0070c0" stroke-width="1.1"/>
<path d="M352.0 151.3L354.3 153.6L352.0 155.9L349.7 153.6Z" fill="none" stroke="#0070c0" stroke-width="1.1"/>
<path d="M354.2 150.8L356.5 153.1L354.2 155.4L351.9 153.1Z" fill="none" stroke="#0070c0" stroke-width="1.1"/>
<path d="M356.4 151.4L358.7 153.7L356.4 156.0L354.1 153.7Z" fill="none" stroke="#0070c0" stroke-width="1.1"/>
<path d="M358.6 151.3L360.9 153.6L358.6 155.9L356.3 153.6Z" fill="none" stroke="#0070c0" stroke-width="1.1"/>
<path d="M360.8 150.3L363.1 152.6L360.8 154.9L358.5 152.6Z" fill="none" stroke="#0070c0" stroke-width="1.1"/>
<path d="M363.0 150.6L365.3 152.9L363.0 155.2L360.7 152.9Z" fill="none" stroke="#0070c0" stroke-width="1.1"/>
<path d="M365.2 151.4L367.5 153.7L365.2 156.0L362.9 153.7Z" fill="none" stroke="#0070c0" stroke-width="1.1"/>
<path d="M367.4 150.9L369.7 153.2L367.4 155.5L365.1 153.2Z" fill="none" stroke="#0070c0" stroke-width="1.1"/>
<path d="M369.6 151.5L371.9 153.8L369.6 156.1L367.3 153.8Z" fill="none" stroke="#0070c0" stroke-width="1.1"/>
<path d="M371.8 150.8L374.1 153.1L371.8 155.4L369.5 153.1Z" fill="none" stroke="#0070c0" stroke-width="1.1"/>
<path d="M374.0 150.4L376.3 152.7L374.0 155.0L371.7 152.7Z" fill="none" stroke="#0070c0" stroke-width="1.1"/>
<path d="M376.2 151.1L378.5 153.4L376.2 155.7L373.9 153.4Z" fill="none" stroke="#0070c0" stroke-width="1.1"/>
<path d="M378.4 151.2L380.7 153.5L378.4 155.8L376.1 153.5Z" fill="none" stroke="#0070c0" stroke-width="1.1"/>
<path d="M380.6 150.6L382.9 152.9L380.6 155.2L378.3 152.9Z" fill="none" stroke="#0070c0" stroke-width="1.1"/>
<path d="M385.0 150.7L387.3 153.0L385.0 155.3L382.7 153.0Z" fill="none" stroke="#0070c0" stroke-width="1.1"/>
<path d="M387.2 151.5L389.5 153.8L387.2 156.1L384.9 153.8Z" fill="none" stroke="#0070c0" stroke-width="1.1"/>
<path d="M389.4 151.2L391.7 153.5L389.4 155.8L387.1 153.5Z" fill="none" stroke="#0070c0" stroke-width="1.1"/>
<path d="M391.6 150.4L393.9 152.7L391.6 155.0L389.3 152.7Z" fill="none" stroke="#0070c0" stroke-width="1.1"/>
<path d="M344.8 140.7L347.1 143.0L344.8 145.3L342.5 143.0Z" fill="none" stroke="#0070c0" stroke-width="1.1"/>
<path d="M332.1 147.7L334.4 150.0L332.1 152.3L329.8 150.0Z" fill="none" stroke="#0070c0" stroke-width="1.1"/>
<path d="M340.1 145.3L342.4 147.6L340.1 149.9L337.8 147.6Z" fill="none" stroke="#0070c0" stroke-width="1.1"/>
<path d="M358.4 141.6L360.7 143.9L358.4 146.2L356.1 143.9Z" fill="none" stroke="#0070c0" stroke-width="1.1"/>
<path d="M377.8 141.0L380.1 143.3L377.8 145.6L375.5 143.3Z" fill="none" stroke="#0070c0" stroke-width="1.1"/>
<path d="M371.8 140.9L374.1 143.2L371.8 145.5L369.5 143.2Z" fill="none" stroke="#0070c0" stroke-width="1.1"/>
<circle cx="375.6" cy="96.3" r="2.3" fill="none" stroke="#000" stroke-width="0.85"/>
<circle cx="361.1" cy="104.3" r="2.3" fill="none" stroke="#000" stroke-width="0.85"/>
<circle cx="341.2" cy="115.4" r="2.3" fill="none" stroke="#000" stroke-width="0.85"/>
<circle cx="352.8" cy="118.8" r="2.3" fill="none" stroke="#000" stroke-width="0.85"/>
<circle cx="348.8" cy="127.3" r="2.3" fill="none" stroke="#000" stroke-width="0.85"/>
<circle cx="371.7" cy="127.0" r="2.3" fill="none" stroke="#000" stroke-width="0.85"/>
<circle cx="354.9" cy="133.4" r="2.3" fill="none" stroke="#000" stroke-width="0.85"/>
<circle cx="373.7" cy="130.3" r="2.3" fill="none" stroke="#000" stroke-width="0.85"/>
<circle cx="337.9" cy="137.6" r="2.3" fill="none" stroke="#000" stroke-width="0.85"/>
<circle cx="358.4" cy="137.6" r="2.3" fill="none" stroke="#000" stroke-width="0.85"/>
<circle cx="365.7" cy="138.3" r="2.3" fill="none" stroke="#000" stroke-width="0.85"/>
<circle cx="395.8" cy="103.1" r="2.3" fill="none" stroke="#000" stroke-width="0.85"/>
<circle cx="382.2" cy="121.0" r="2.3" fill="none" stroke="#000" stroke-width="0.85"/>
<circle cx="386.4" cy="130.1" r="2.3" fill="none" stroke="#000" stroke-width="0.85"/>
<circle cx="408.6" cy="133.6" r="2.3" fill="none" stroke="#000" stroke-width="0.85"/>
<circle cx="398.5" cy="141.7" r="2.3" fill="none" stroke="#000" stroke-width="0.85"/>
<circle cx="400.1" cy="149.7" r="2.3" fill="none" stroke="#000" stroke-width="0.85"/>
<circle cx="400.1" cy="151.8" r="2.3" fill="none" stroke="#000" stroke-width="0.85"/>
<circle cx="408.1" cy="152.8" r="2.3" fill="none" stroke="#000" stroke-width="0.85"/>
<circle cx="414.4" cy="151.2" r="2.3" fill="none" stroke="#000" stroke-width="0.85"/>
<circle cx="426.6" cy="150.7" r="2.3" fill="none" stroke="#000" stroke-width="0.85"/>
<circle cx="438.4" cy="132.2" r="2.3" fill="none" stroke="#000" stroke-width="0.85"/>
<circle cx="450.5" cy="142.2" r="2.3" fill="none" stroke="#000" stroke-width="0.85"/>
<circle cx="457.9" cy="153.0" r="2.3" fill="none" stroke="#000" stroke-width="0.85"/>
<circle cx="433.8" cy="153.0" r="2.3" fill="none" stroke="#000" stroke-width="0.85"/>
<circle cx="328.2" cy="137.0" r="2.3" fill="none" stroke="#000" stroke-width="0.85"/>
<circle cx="336.5" cy="144.3" r="2.3" fill="none" stroke="#000" stroke-width="0.85"/>
<circle cx="358.4" cy="140.7" r="2.3" fill="none" stroke="#000" stroke-width="0.85"/>
<circle cx="369.4" cy="140.7" r="2.3" fill="none" stroke="#000" stroke-width="0.85"/>
<circle cx="373.1" cy="142.7" r="2.3" fill="none" stroke="#000" stroke-width="0.85"/>
<circle cx="327.1" cy="146.9" r="2.3" fill="none" stroke="#000" stroke-width="0.85"/>
<circle cx="333.4" cy="145.6" r="2.3" fill="none" stroke="#000" stroke-width="0.85"/>
<circle cx="344.5" cy="144.6" r="2.3" fill="none" stroke="#000" stroke-width="0.85"/>
<circle cx="354.7" cy="145.6" r="2.3" fill="none" stroke="#000" stroke-width="0.85"/>
<circle cx="364.0" cy="145.9" r="2.3" fill="none" stroke="#000" stroke-width="0.85"/>
<circle cx="369.5" cy="145.2" r="2.3" fill="none" stroke="#000" stroke-width="0.85"/>
<circle cx="363.9" cy="142.6" r="2.3" fill="none" stroke="#000" stroke-width="0.85"/>
<circle cx="340.9" cy="144.4" r="2.3" fill="none" stroke="#000" stroke-width="0.85"/>
<circle cx="358.0" cy="150.4" r="2.3" fill="none" stroke="#000" stroke-width="0.85"/>
<circle cx="363.3" cy="148.4" r="2.3" fill="none" stroke="#000" stroke-width="0.85"/>
<circle cx="359.1" cy="144.8" r="2.3" fill="none" stroke="#000" stroke-width="0.85"/>
<rect x="339.8" y="62.9" width="3.3" height="3.3" fill="#c00000"/>
<rect x="406.2" y="57.4" width="3.3" height="3.3" fill="#c00000"/>
<rect x="407.2" y="71.2" width="3.3" height="3.3" fill="#c00000"/>
<rect x="449.4" y="73.0" width="3.3" height="3.3" fill="#c00000"/>
<rect x="432.8" y="79.9" width="3.3" height="3.3" fill="#c00000"/>
<rect x="456.7" y="91.3" width="3.3" height="3.3" fill="#c00000"/>
<rect x="359.5" y="102.6" width="3.3" height="3.3" fill="#c00000"/>
<rect x="397.8" y="100.5" width="3.3" height="3.3" fill="#c00000"/>
<rect x="374.0" y="118.8" width="3.3" height="3.3" fill="#c00000"/>
<rect x="372.7" y="123.0" width="3.3" height="3.3" fill="#c00000"/>
<rect x="359.5" y="126.4" width="3.3" height="3.3" fill="#c00000"/>
<rect x="352.9" y="126.9" width="3.3" height="3.3" fill="#c00000"/>
<rect x="336.6" y="130.4" width="3.3" height="3.3" fill="#c00000"/>
<rect x="351.5" y="133.3" width="3.3" height="3.3" fill="#c00000"/>
<rect x="364.8" y="130.9" width="3.3" height="3.3" fill="#c00000"/>
<rect x="366.8" y="128.7" width="3.3" height="3.3" fill="#c00000"/>
<rect x="372.1" y="128.7" width="3.3" height="3.3" fill="#c00000"/>
<rect x="373.4" y="130.7" width="3.3" height="3.3" fill="#c00000"/>
<rect x="370.7" y="134.3" width="3.3" height="3.3" fill="#c00000"/>
<rect x="394.2" y="121.5" width="3.3" height="3.3" fill="#c00000"/>
<rect x="397.7" y="123.6" width="3.3" height="3.3" fill="#c00000"/>
<rect x="380.5" y="128.9" width="3.3" height="3.3" fill="#c00000"/>
<rect x="384.8" y="128.4" width="3.3" height="3.3" fill="#c00000"/>
<rect x="381.6" y="140.0" width="3.3" height="3.3" fill="#c00000"/>
<rect x="403.8" y="142.2" width="3.3" height="3.3" fill="#c00000"/>
<rect x="403.2" y="151.2" width="3.3" height="3.3" fill="#c00000"/>
<rect x="412.8" y="149.5" width="3.3" height="3.3" fill="#c00000"/>
<rect x="398.8" y="116.0" width="3.3" height="3.3" fill="#c00000"/>
<rect x="425.4" y="116.4" width="3.3" height="3.3" fill="#c00000"/>
<rect x="343.8" y="132.8" width="3.3" height="3.3" fill="#c00000"/>
<rect x="350.6" y="140.0" width="3.3" height="3.3" fill="#c00000"/>
<rect x="326.6" y="142.7" width="3.3" height="3.3" fill="#c00000"/>
<rect x="330.0" y="143.9" width="3.3" height="3.3" fill="#c00000"/>
<rect x="342.0" y="143.9" width="3.3" height="3.3" fill="#c00000"/>
<rect x="347.5" y="143.9" width="3.3" height="3.3" fill="#c00000"/>
<rect x="335.5" y="145.8" width="3.3" height="3.3" fill="#c00000"/>
<rect x="331.8" y="147.7" width="3.3" height="3.3" fill="#c00000"/>
<rect x="352.2" y="147.9" width="3.3" height="3.3" fill="#c00000"/>
<rect x="378.1" y="147.2" width="3.3" height="3.3" fill="#c00000"/>
<rect x="357.1" y="145.9" width="3.3" height="3.3" fill="#c00000"/>
<rect x="389.2" y="145.0" width="3.3" height="3.3" fill="#c00000"/>
<rect x="360.9" y="146.2" width="3.3" height="3.3" fill="#c00000"/>
<rect x="338.9" y="145.5" width="3.3" height="3.3" fill="#c00000"/>
<rect x="369.2" y="148.3" width="3.3" height="3.3" fill="#c00000"/>
<rect x="373.5" y="140.8" width="3.3" height="3.3" fill="#c00000"/>
<rect x="370.8" y="146.5" width="3.3" height="3.3" fill="#c00000"/>
<line x1="328" y1="153.5" x2="462" y2="28" stroke="#1a1a1a" stroke-width="1.05"/>
<line x1="328" y1="153.8" x2="462" y2="86.3" stroke="#c00000" stroke-width="1.5" stroke-dasharray="4,2.5"/>
<line x1="328" y1="152.1" x2="462" y2="134.5" stroke="#000" stroke-width="1.7" stroke-dasharray="4,3"/>
<line x1="328" y1="154.5" x2="462" y2="113.5" stroke="#00b0f0" stroke-width="1.5"/>
</g>
<g class="pc">
<line x1="45" y1="211" x2="45" y2="342.5" stroke="#e3e3e3" stroke-width="1.5"/>
<line x1="45" y1="342.5" x2="176" y2="342.5" stroke="#e3e3e3" stroke-width="1.5"/>
<line x1="44.3" y1="211" x2="176.7" y2="211" stroke="#8c8c8c" stroke-width="1.6"/>
<line x1="176" y1="211" x2="176" y2="342.5" stroke="#a0a0a0" stroke-width="1.6"/>
<text x="39.5" y="345.6" text-anchor="end" font-size="9">0</text>
<text x="39.5" y="329.2" text-anchor="end" font-size="9">10</text>
<text x="39.5" y="312.7" text-anchor="end" font-size="9">20</text>
<text x="39.5" y="296.3" text-anchor="end" font-size="9">30</text>
<text x="39.5" y="279.9" text-anchor="end" font-size="9">40</text>
<text x="39.5" y="263.4" text-anchor="end" font-size="9">50</text>
<text x="39.5" y="247.0" text-anchor="end" font-size="9">60</text>
<text x="39.5" y="230.5" text-anchor="end" font-size="9">70</text>
<text x="39.5" y="214.1" text-anchor="end" font-size="9">80</text>
<text x="45.0" y="355.0" text-anchor="middle" font-size="9">0</text>
<text x="77.8" y="355.0" text-anchor="middle" font-size="9">20</text>
<text x="110.5" y="355.0" text-anchor="middle" font-size="9">40</text>
<text x="143.2" y="355.0" text-anchor="middle" font-size="9">60</text>
<text x="176.0" y="355.0" text-anchor="middle" font-size="9">80</text>
<text x="105" y="201.5" text-anchor="middle" font-size="10">Burned proportion in deep peat</text>
<text x="277.6" y="204.4" text-anchor="end" font-size="16">c)</text>
<text x="104" y="369" text-anchor="middle" font-size="8.2">SPOT 5 (%)</text>
<text transform="translate(17.4,275.4) rotate(-90)" text-anchor="middle" font-size="8.5">MODIS&#160; product (%)</text>
<rect x="188.8" y="219.7" width="3.3" height="3.3" fill="#c00000"/>
<circle cx="190.4" cy="242.1" r="2.5" fill="none" stroke="#000" stroke-width="0.85"/>
<path d="M190.4 261.8L192.9 264.3L190.4 266.8L187.9 264.3Z" fill="none" stroke="#0070c0" stroke-width="1.1"/>
<rect x="185.4" y="285.90000000000003" width="3.4" height="1.4" fill="#c00000"/><rect x="192.6" y="285.90000000000003" width="2.4" height="1.4" fill="#c00000"/>
<rect x="185.4" y="308.09999999999997" width="3.4" height="1.6" fill="#000"/><rect x="192.6" y="308.09999999999997" width="2.4" height="1.6" fill="#000"/>
<rect x="185.4" y="330.40000000000003" width="9.2" height="1.4" fill="#00b0f0"/>
<text x="196" y="224.2" font-size="8.2">MCD64A1 C6</text>
<text x="196" y="245.0" font-size="8.2">MCD64A1 C5.1</text>
<text x="196" y="267.2" font-size="8.2">FireCCI51</text>
<text x="196" y="289.5" font-size="8.2">Linear (MCD64A1 C6)</text>
<text x="196" y="311.8" font-size="8.2">Linear (MCD64A1 C5.1)</text>
<text x="196" y="334.0" font-size="8.2">Linear (FireCCI51)</text>
<text x="139" y="221.5" font-size="8.2">R² = 1</text>
<path d="M42.1,333 L48,330.5 L55,331 L63,334 L71,339 L77,342 L78,344 L42.1,344 Z" fill="#0070c0" stroke="#0a3a6a" stroke-width="1"/>
<path d="M157.8 212.9L160.1 215.2L157.8 217.5L155.5 215.2Z" fill="none" stroke="#0070c0" stroke-width="1.1"/>
<path d="M131.1 241.2L133.4 243.5L131.1 245.8L128.8 243.5Z" fill="none" stroke="#0070c0" stroke-width="1.1"/>
<path d="M133.7 248.1L136.0 250.4L133.7 252.7L131.4 250.4Z" fill="none" stroke="#0070c0" stroke-width="1.1"/>
<path d="M137.0 256.0L139.3 258.3L137.0 260.6L134.7 258.3Z" fill="none" stroke="#0070c0" stroke-width="1.1"/>
<path d="M86.7 265.5L89.0 267.8L86.7 270.1L84.4 267.8Z" fill="none" stroke="#0070c0" stroke-width="1.1"/>
<path d="M68.1 274.7L70.4 277.0L68.1 279.3L65.8 277.0Z" fill="none" stroke="#0070c0" stroke-width="1.1"/>
<path d="M97.8 275.8L100.1 278.1L97.8 280.4L95.5 278.1Z" fill="none" stroke="#0070c0" stroke-width="1.1"/>
<path d="M52.0 287.3L54.3 289.6L52.0 291.9L49.7 289.6Z" fill="none" stroke="#0070c0" stroke-width="1.1"/>
<path d="M63.7 288.8L66.0 291.1L63.7 293.4L61.4 291.1Z" fill="none" stroke="#0070c0" stroke-width="1.1"/>
<path d="M87.8 295.7L90.1 298.0L87.8 300.3L85.5 298.0Z" fill="none" stroke="#0070c0" stroke-width="1.1"/>
<path d="M93.7 299.4L96.0 301.7L93.7 304.0L91.4 301.7Z" fill="none" stroke="#0070c0" stroke-width="1.1"/>
<path d="M103.9 296.6L106.2 298.9L103.9 301.2L101.6 298.9Z" fill="none" stroke="#0070c0" stroke-width="1.1"/>
<path d="M116.5 278.0L118.8 280.3L116.5 282.6L114.2 280.3Z" fill="none" stroke="#0070c0" stroke-width="1.1"/>
<path d="M128.9 279.0L131.2 281.3L128.9 283.6L126.6 281.3Z" fill="none" stroke="#0070c0" stroke-width="1.1"/>
<path d="M116.1 293.5L118.4 295.8L116.1 298.1L113.8 295.8Z" fill="none" stroke="#0070c0" stroke-width="1.1"/>
<path d="M104.5 304.8L106.8 307.1L104.5 309.4L102.2 307.1Z" fill="none" stroke="#0070c0" stroke-width="1.1"/>
<path d="M133.0 310.6L135.3 312.9L133.0 315.2L130.7 312.9Z" fill="none" stroke="#0070c0" stroke-width="1.1"/>
<path d="M147.8 329.6L150.1 331.9L147.8 334.2L145.5 331.9Z" fill="none" stroke="#0070c0" stroke-width="1.1"/>
<path d="M127.2 330.6L129.5 332.9L127.2 335.2L124.9 332.9Z" fill="none" stroke="#0070c0" stroke-width="1.1"/>
<path d="M116.1 338.2L118.4 340.5L116.1 342.8L113.8 340.5Z" fill="none" stroke="#0070c0" stroke-width="1.1"/>
<path d="M100.0 308.9L102.3 311.2L100.0 313.5L97.7 311.2Z" fill="none" stroke="#0070c0" stroke-width="1.1"/>
<path d="M77.4 309.9L79.7 312.2L77.4 314.5L75.1 312.2Z" fill="none" stroke="#0070c0" stroke-width="1.1"/>
<path d="M68.3 323.9L70.6 326.2L68.3 328.5L66.0 326.2Z" fill="none" stroke="#0070c0" stroke-width="1.1"/>
<path d="M72.0 319.3L74.3 321.6L72.0 323.9L69.7 321.6Z" fill="none" stroke="#0070c0" stroke-width="1.1"/>
<path d="M79.4 310.2L81.7 312.5L79.4 314.8L77.1 312.5Z" fill="none" stroke="#0070c0" stroke-width="1.1"/>
<path d="M76.0 314.4L78.3 316.7L76.0 319.0L73.7 316.7Z" fill="none" stroke="#0070c0" stroke-width="1.1"/>
<path d="M67.8 315.7L70.1 318.0L67.8 320.3L65.5 318.0Z" fill="none" stroke="#0070c0" stroke-width="1.1"/>
<path d="M93.6 305.1L95.9 307.4L93.6 309.7L91.3 307.4Z" fill="none" stroke="#0070c0" stroke-width="1.1"/>
<path d="M94.0 311.0L96.3 313.3L94.0 315.6L91.7 313.3Z" fill="none" stroke="#0070c0" stroke-width="1.1"/>
<path d="M90.7 302.2L93.0 304.5L90.7 306.8L88.4 304.5Z" fill="none" stroke="#0070c0" stroke-width="1.1"/>
<path d="M55.6 321.8L57.9 324.1L55.6 326.4L53.3 324.1Z" fill="none" stroke="#0070c0" stroke-width="1.1"/>
<path d="M52.1 336.1L54.4 338.4L52.1 340.7L49.8 338.4Z" fill="none" stroke="#0070c0" stroke-width="1.1"/>
<path d="M105.9 287.4L108.2 289.7L105.9 292.0L103.6 289.7Z" fill="none" stroke="#0070c0" stroke-width="1.1"/>
<path d="M88.6 299.3L90.9 301.6L88.6 303.9L86.3 301.6Z" fill="none" stroke="#0070c0" stroke-width="1.1"/>
<path d="M53.5 336.1L55.8 338.4L53.5 340.7L51.2 338.4Z" fill="none" stroke="#0070c0" stroke-width="1.1"/>
<path d="M73.1 322.4L75.4 324.7L73.1 327.0L70.8 324.7Z" fill="none" stroke="#0070c0" stroke-width="1.1"/>
<path d="M67.6 328.6L69.9 330.9L67.6 333.2L65.3 330.9Z" fill="none" stroke="#0070c0" stroke-width="1.1"/>
<path d="M84.1 303.8L86.4 306.1L84.1 308.4L81.8 306.1Z" fill="none" stroke="#0070c0" stroke-width="1.1"/>
<path d="M65.4 329.2L67.7 331.5L65.4 333.8L63.1 331.5Z" fill="none" stroke="#0070c0" stroke-width="1.1"/>
<path d="M49.5 332.8L51.8 335.1L49.5 337.4L47.2 335.1Z" fill="none" stroke="#0070c0" stroke-width="1.1"/>
<path d="M48.3 350.6L50.6 352.9L48.3 355.2L46.0 352.9Z" fill="none" stroke="#0070c0" stroke-width="1.1"/>
<path d="M69.3 313.5L71.6 315.8L69.3 318.1L67.0 315.8Z" fill="none" stroke="#0070c0" stroke-width="1.1"/>
<path d="M97.5 298.3L99.8 300.6L97.5 302.9L95.2 300.6Z" fill="none" stroke="#0070c0" stroke-width="1.1"/>
<path d="M66.2 331.4L68.5 333.7L66.2 336.0L63.9 333.7Z" fill="none" stroke="#0070c0" stroke-width="1.1"/>
<path d="M85.2 318.7L87.5 321.0L85.2 323.3L82.9 321.0Z" fill="none" stroke="#0070c0" stroke-width="1.1"/>
<path d="M73.7 328.8L76.0 331.1L73.7 333.4L71.4 331.1Z" fill="none" stroke="#0070c0" stroke-width="1.1"/>
<path d="M71.6 330.2L73.9 332.5L71.6 334.8L69.3 332.5Z" fill="none" stroke="#0070c0" stroke-width="1.1"/>
<path d="M75.4 324.5L77.7 326.8L75.4 329.1L73.1 326.8Z" fill="none" stroke="#0070c0" stroke-width="1.1"/>
<path d="M76.9 325.8L79.2 328.1L76.9 330.4L74.6 328.1Z" fill="none" stroke="#0070c0" stroke-width="1.1"/>
<path d="M82.9 317.6L85.2 319.9L82.9 322.2L80.6 319.9Z" fill="none" stroke="#0070c0" stroke-width="1.1"/>
<path d="M69.5 328.6L71.8 330.9L69.5 333.2L67.2 330.9Z" fill="none" stroke="#0070c0" stroke-width="1.1"/>
<path d="M67.8 331.1L70.1 333.4L67.8 335.7L65.5 333.4Z" fill="none" stroke="#0070c0" stroke-width="1.1"/>
<path d="M69.9 330.7L72.2 333.0L69.9 335.3L67.6 333.0Z" fill="none" stroke="#0070c0" stroke-width="1.1"/>
<path d="M63.0 329.9L65.3 332.2L63.0 334.5L60.7 332.2Z" fill="none" stroke="#0070c0" stroke-width="1.1"/>
<path d="M71.6 314.8L73.9 317.1L71.6 319.4L69.3 317.1Z" fill="none" stroke="#0070c0" stroke-width="1.1"/>
<path d="M74.7 318.6L77.0 320.9L74.7 323.2L72.4 320.9Z" fill="none" stroke="#0070c0" stroke-width="1.1"/>
<path d="M60.6 338.9L62.9 341.2L60.6 343.5L58.3 341.2Z" fill="none" stroke="#0070c0" stroke-width="1.1"/>
<path d="M47.8 327.2L50.1 329.5L47.8 331.8L45.5 329.5Z" fill="none" stroke="#0070c0" stroke-width="1.1"/>
<path d="M80.8 308.0L83.1 310.3L80.8 312.6L78.5 310.3Z" fill="none" stroke="#0070c0" stroke-width="1.1"/>
<path d="M52.2 323.1L54.5 325.4L52.2 327.7L49.9 325.4Z" fill="none" stroke="#0070c0" stroke-width="1.1"/>
<path d="M61.9 329.8L64.2 332.1L61.9 334.4L59.6 332.1Z" fill="none" stroke="#0070c0" stroke-width="1.1"/>
<path d="M64.1 335.5L66.4 337.8L64.1 340.1L61.8 337.8Z" fill="none" stroke="#0070c0" stroke-width="1.1"/>
<path d="M69.3 326.4L71.6 328.7L69.3 331.0L67.0 328.7Z" fill="none" stroke="#0070c0" stroke-width="1.1"/>
<path d="M64.6 331.9L66.9 334.2L64.6 336.5L62.3 334.2Z" fill="none" stroke="#0070c0" stroke-width="1.1"/>
<path d="M77.3 340.2L79.6 342.5L77.3 344.8L75.0 342.5Z" fill="none" stroke="#0070c0" stroke-width="1.1"/>
<path d="M82.1 340.2L84.4 342.5L82.1 344.8L79.8 342.5Z" fill="none" stroke="#0070c0" stroke-width="1.1"/>
<path d="M72.0 340.2L74.3 342.5L72.0 344.8L69.7 342.5Z" fill="none" stroke="#0070c0" stroke-width="1.1"/>
<path d="M97.0 340.2L99.3 342.5L97.0 344.8L94.7 342.5Z" fill="none" stroke="#0070c0" stroke-width="1.1"/>
<path d="M94.5 340.2L96.8 342.5L94.5 344.8L92.2 342.5Z" fill="none" stroke="#0070c0" stroke-width="1.1"/>
<circle cx="104.1" cy="236.5" r="2.3" fill="none" stroke="#000" stroke-width="0.85"/>
<circle cx="133.3" cy="261.5" r="2.3" fill="none" stroke="#000" stroke-width="0.85"/>
<circle cx="136.7" cy="262.8" r="2.3" fill="none" stroke="#000" stroke-width="0.85"/>
<circle cx="128.1" cy="271.3" r="2.3" fill="none" stroke="#000" stroke-width="0.85"/>
<circle cx="100.0" cy="272.0" r="2.3" fill="none" stroke="#000" stroke-width="0.85"/>
<circle cx="88.1" cy="263.3" r="2.3" fill="none" stroke="#000" stroke-width="0.85"/>
<circle cx="71.9" cy="273.9" r="2.3" fill="none" stroke="#000" stroke-width="0.85"/>
<circle cx="86.3" cy="285.0" r="2.3" fill="none" stroke="#000" stroke-width="0.85"/>
<circle cx="87.2" cy="286.9" r="2.3" fill="none" stroke="#000" stroke-width="0.85"/>
<circle cx="99.3" cy="288.1" r="2.3" fill="none" stroke="#000" stroke-width="0.85"/>
<circle cx="68.7" cy="293.3" r="2.3" fill="none" stroke="#000" stroke-width="0.85"/>
<circle cx="76.1" cy="289.3" r="2.3" fill="none" stroke="#000" stroke-width="0.85"/>
<circle cx="103.0" cy="292.4" r="2.3" fill="none" stroke="#000" stroke-width="0.85"/>
<circle cx="73.3" cy="298.9" r="2.3" fill="none" stroke="#000" stroke-width="0.85"/>
<circle cx="71.5" cy="304.4" r="2.3" fill="none" stroke="#000" stroke-width="0.85"/>
<circle cx="76.1" cy="301.7" r="2.3" fill="none" stroke="#000" stroke-width="0.85"/>
<circle cx="88.5" cy="303.0" r="2.3" fill="none" stroke="#000" stroke-width="0.85"/>
<circle cx="104.8" cy="306.3" r="2.3" fill="none" stroke="#000" stroke-width="0.85"/>
<circle cx="130.9" cy="285.5" r="2.3" fill="none" stroke="#000" stroke-width="0.85"/>
<circle cx="116.1" cy="295.8" r="2.3" fill="none" stroke="#000" stroke-width="0.85"/>
<circle cx="133.0" cy="299.3" r="2.3" fill="none" stroke="#000" stroke-width="0.85"/>
<circle cx="116.1" cy="304.0" r="2.3" fill="none" stroke="#000" stroke-width="0.85"/>
<circle cx="116.1" cy="311.6" r="2.3" fill="none" stroke="#000" stroke-width="0.85"/>
<circle cx="147.8" cy="328.1" r="2.3" fill="none" stroke="#000" stroke-width="0.85"/>
<circle cx="157.3" cy="331.9" r="2.3" fill="none" stroke="#000" stroke-width="0.85"/>
<circle cx="127.2" cy="333.9" r="2.3" fill="none" stroke="#000" stroke-width="0.85"/>
<circle cx="48.5" cy="335.5" r="2.3" fill="none" stroke="#000" stroke-width="0.85"/>
<circle cx="53.3" cy="332.1" r="2.3" fill="none" stroke="#000" stroke-width="0.85"/>
<circle cx="66.2" cy="330.8" r="2.3" fill="none" stroke="#000" stroke-width="0.85"/>
<circle cx="91.1" cy="301.4" r="2.3" fill="none" stroke="#000" stroke-width="0.85"/>
<circle cx="62.9" cy="335.8" r="2.3" fill="none" stroke="#000" stroke-width="0.85"/>
<circle cx="69.5" cy="322.5" r="2.3" fill="none" stroke="#000" stroke-width="0.85"/>
<circle cx="60.3" cy="333.8" r="2.3" fill="none" stroke="#000" stroke-width="0.85"/>
<circle cx="46.9" cy="339.2" r="2.3" fill="none" stroke="#000" stroke-width="0.85"/>
<circle cx="91.2" cy="305.5" r="2.3" fill="none" stroke="#000" stroke-width="0.85"/>
<circle cx="103.6" cy="295.6" r="2.3" fill="none" stroke="#000" stroke-width="0.85"/>
<circle cx="46.5" cy="343.7" r="2.3" fill="none" stroke="#000" stroke-width="0.85"/>
<circle cx="107.1" cy="294.5" r="2.3" fill="none" stroke="#000" stroke-width="0.85"/>
<circle cx="53.3" cy="341.2" r="2.3" fill="none" stroke="#000" stroke-width="0.85"/>
<circle cx="49.2" cy="337.5" r="2.3" fill="none" stroke="#000" stroke-width="0.85"/>
<circle cx="56.4" cy="323.0" r="2.3" fill="none" stroke="#000" stroke-width="0.85"/>
<circle cx="99.7" cy="295.7" r="2.3" fill="none" stroke="#000" stroke-width="0.85"/>
<circle cx="80.7" cy="316.2" r="2.3" fill="none" stroke="#000" stroke-width="0.85"/>
<circle cx="94.4" cy="303.4" r="2.3" fill="none" stroke="#000" stroke-width="0.85"/>
<circle cx="95.1" cy="305.5" r="2.3" fill="none" stroke="#000" stroke-width="0.85"/>
<circle cx="75.2" cy="318.7" r="2.3" fill="none" stroke="#000" stroke-width="0.85"/>
<circle cx="63.5" cy="329.0" r="2.3" fill="none" stroke="#000" stroke-width="0.85"/>
<circle cx="67.9" cy="322.0" r="2.3" fill="none" stroke="#000" stroke-width="0.85"/>
<circle cx="89.0" cy="315.7" r="2.3" fill="none" stroke="#000" stroke-width="0.85"/>
<circle cx="81.7" cy="322.9" r="2.3" fill="none" stroke="#000" stroke-width="0.85"/>
<circle cx="71.4" cy="331.0" r="2.3" fill="none" stroke="#000" stroke-width="0.85"/>
<circle cx="97.4" cy="313.6" r="2.3" fill="none" stroke="#000" stroke-width="0.85"/>
<circle cx="96.9" cy="309.5" r="2.3" fill="none" stroke="#000" stroke-width="0.85"/>
<circle cx="88.3" cy="319.9" r="2.3" fill="none" stroke="#000" stroke-width="0.85"/>
<circle cx="57.4" cy="318.4" r="2.3" fill="none" stroke="#000" stroke-width="0.85"/>
<circle cx="75.2" cy="321.5" r="2.3" fill="none" stroke="#000" stroke-width="0.85"/>
<circle cx="72.3" cy="324.7" r="2.3" fill="none" stroke="#000" stroke-width="0.85"/>
<circle cx="61.6" cy="337.8" r="2.3" fill="none" stroke="#000" stroke-width="0.85"/>
<circle cx="65.9" cy="333.8" r="2.3" fill="none" stroke="#000" stroke-width="0.85"/>
<circle cx="63.1" cy="317.5" r="2.3" fill="none" stroke="#000" stroke-width="0.85"/>
<circle cx="49.6" cy="329.8" r="2.3" fill="none" stroke="#000" stroke-width="0.85"/>
<circle cx="49.9" cy="341.6" r="2.3" fill="none" stroke="#000" stroke-width="0.85"/>
<rect x="135.3" y="227.0" width="3.3" height="3.3" fill="#c00000"/>
<rect x="132.7" y="252.9" width="3.3" height="3.3" fill="#c00000"/>
<rect x="146.8" y="249.7" width="3.3" height="3.3" fill="#c00000"/>
<rect x="114.6" y="256.2" width="3.3" height="3.3" fill="#c00000"/>
<rect x="156.2" y="260.8" width="3.3" height="3.3" fill="#c00000"/>
<rect x="70.2" y="272.2" width="3.3" height="3.3" fill="#c00000"/>
<rect x="91.6" y="270.4" width="3.3" height="3.3" fill="#c00000"/>
<rect x="84.2" y="276.9" width="3.3" height="3.3" fill="#c00000"/>
<rect x="86.1" y="279.1" width="3.3" height="3.3" fill="#c00000"/>
<rect x="102.2" y="277.8" width="3.3" height="3.3" fill="#c00000"/>
<rect x="92.0" y="287.1" width="3.3" height="3.3" fill="#c00000"/>
<rect x="99.4" y="284.4" width="3.3" height="3.3" fill="#c00000"/>
<rect x="73.5" y="290.8" width="3.3" height="3.3" fill="#c00000"/>
<rect x="96.6" y="295.4" width="3.3" height="3.3" fill="#c00000"/>
<rect x="72.1" y="297.9" width="3.3" height="3.3" fill="#c00000"/>
<rect x="81.8" y="298.2" width="3.3" height="3.3" fill="#c00000"/>
<rect x="130.9" y="277.7" width="3.3" height="3.3" fill="#c00000"/>
<rect x="101.4" y="291.1" width="3.3" height="3.3" fill="#c00000"/>
<rect x="126.1" y="294.8" width="3.3" height="3.3" fill="#c00000"/>
<rect x="114.4" y="301.4" width="3.3" height="3.3" fill="#c00000"/>
<rect x="100.4" y="309.7" width="3.3" height="3.3" fill="#c00000"/>
<rect x="48.7" y="339.3" width="3.3" height="3.3" fill="#c00000"/>
<rect x="44.9" y="346.4" width="3.3" height="3.3" fill="#c00000"/>
<rect x="45.9" y="333.1" width="3.3" height="3.3" fill="#c00000"/>
<rect x="104.0" y="290.0" width="3.3" height="3.3" fill="#c00000"/>
<rect x="79.2" y="315.5" width="3.3" height="3.3" fill="#c00000"/>
<rect x="47.4" y="339.7" width="3.3" height="3.3" fill="#c00000"/>
<rect x="59.1" y="325.6" width="3.3" height="3.3" fill="#c00000"/>
<rect x="47.7" y="335.6" width="3.3" height="3.3" fill="#c00000"/>
<rect x="72.5" y="325.3" width="3.3" height="3.3" fill="#c00000"/>
<rect x="64.2" y="324.7" width="3.3" height="3.3" fill="#c00000"/>
<rect x="91.1" y="311.9" width="3.3" height="3.3" fill="#c00000"/>
<rect x="61.8" y="338.9" width="3.3" height="3.3" fill="#c00000"/>
<rect x="101.1" y="301.8" width="3.3" height="3.3" fill="#c00000"/>
<rect x="59.8" y="336.0" width="3.3" height="3.3" fill="#c00000"/>
<rect x="93.0" y="308.5" width="3.3" height="3.3" fill="#c00000"/>
<rect x="88.6" y="300.7" width="3.3" height="3.3" fill="#c00000"/>
<rect x="73.5" y="314.6" width="3.3" height="3.3" fill="#c00000"/>
<rect x="44.4" y="342.0" width="3.3" height="3.3" fill="#c00000"/>
<rect x="52.2" y="332.2" width="3.3" height="3.3" fill="#c00000"/>
<rect x="68.2" y="326.2" width="3.3" height="3.3" fill="#c00000"/>
<rect x="63.2" y="335.1" width="3.3" height="3.3" fill="#c00000"/>
<rect x="50.9" y="325.6" width="3.3" height="3.3" fill="#c00000"/>
<rect x="44.4" y="332.6" width="3.3" height="3.3" fill="#c00000"/>
<rect x="49.6" y="332.8" width="3.3" height="3.3" fill="#c00000"/>
<rect x="66.2" y="316.6" width="3.3" height="3.3" fill="#c00000"/>
<rect x="78.3" y="330.6" width="3.3" height="3.3" fill="#c00000"/>
<rect x="44.4" y="335.1" width="3.3" height="3.3" fill="#c00000"/>
<line x1="45" y1="342.5" x2="176" y2="211" stroke="#1a1a1a" stroke-width="1.05"/>
<line x1="45" y1="342.5" x2="176" y2="233.7" stroke="#c00000" stroke-width="1.5" stroke-dasharray="4,2.5"/>
<line x1="45" y1="343" x2="176" y2="259.6" stroke="#000" stroke-width="1.7" stroke-dasharray="4,3"/>
<line x1="45" y1="343.5" x2="176" y2="260" stroke="#00b0f0" stroke-width="1.5"/>
</g>
<g class="pd">
<line x1="335" y1="210.6" x2="335" y2="342.9" stroke="#e6e6e6" stroke-width="1.5"/>
<line x1="335" y1="342.9" x2="464" y2="342.9" stroke="#e6e6e6" stroke-width="1.5"/>
<line x1="334.3" y1="210.6" x2="464.7" y2="210.6" stroke="#9a9a9a" stroke-width="1.6"/>
<line x1="464" y1="210.6" x2="464" y2="342.9" stroke="#c8c8c8" stroke-width="1.6"/>
<text x="329.5" y="346.0" text-anchor="end" font-size="9">0</text>
<text x="329.5" y="329.5" text-anchor="end" font-size="9">10</text>
<text x="329.5" y="312.9" text-anchor="end" font-size="9">20</text>
<text x="329.5" y="296.4" text-anchor="end" font-size="9">30</text>
<text x="329.5" y="279.9" text-anchor="end" font-size="9">40</text>
<text x="329.5" y="263.3" text-anchor="end" font-size="9">50</text>
<text x="329.5" y="246.8" text-anchor="end" font-size="9">60</text>
<text x="329.5" y="230.2" text-anchor="end" font-size="9">70</text>
<text x="329.5" y="213.7" text-anchor="end" font-size="9">80</text>
<text x="335.0" y="355.4" text-anchor="middle" font-size="9">0</text>
<text x="367.2" y="355.4" text-anchor="middle" font-size="9">20</text>
<text x="399.5" y="355.4" text-anchor="middle" font-size="9">40</text>
<text x="431.8" y="355.4" text-anchor="middle" font-size="9">60</text>
<text x="464.0" y="355.4" text-anchor="middle" font-size="9">80</text>
<text x="393.3" y="201.5" text-anchor="middle" font-size="10">Burned proportion in shallow peat</text>
<text x="570" y="202.9" text-anchor="end" font-size="16">d)</text>
<text x="391.5" y="369.6" text-anchor="middle" font-size="8.2">SPOT 5 (%)</text>
<text transform="translate(307.4,275.8) rotate(-90)" text-anchor="middle" font-size="8.5">MODIS&#160; product (%)</text>
<rect x="476.9" y="220.2" width="3.3" height="3.3" fill="#c00000"/>
<circle cx="478.5" cy="243.5" r="2.5" fill="none" stroke="#000" stroke-width="0.85"/>
<path d="M478.5 262.9L481.0 265.4L478.5 267.9L476.0 265.4Z" fill="none" stroke="#0070c0" stroke-width="1.1"/>
<rect x="473.5" y="286.90000000000003" width="3.4" height="1.4" fill="#c00000"/><rect x="480.7" y="286.90000000000003" width="2.4" height="1.4" fill="#c00000"/>
<rect x="473.5" y="308.4" width="3.4" height="1.6" fill="#000"/><rect x="480.7" y="308.4" width="2.4" height="1.6" fill="#000"/>
<rect x="473.5" y="331.3" width="9.2" height="1.4" fill="#00b0f0"/>
<text x="483.7" y="224.8" font-size="8.2">MCD64A1 C6</text>
<text x="483.7" y="246.4" font-size="8.2">MCD64A1 C5.1</text>
<text x="483.7" y="268.3" font-size="8.2">FireCCI51</text>
<text x="483.7" y="290.5" font-size="8.2">Linear (MCD64A1 C6)</text>
<text x="483.7" y="312.1" font-size="8.2">Linear (MCD64A1 C5.1)</text>
<text x="483.7" y="334.9" font-size="8.2">Linear (FireCCI51)</text>
<text x="430.5" y="220.5" font-size="8.2">R² = 1</text>
<path d="M333,339.5 L337,337.5 L352,340 L358,342 L356,344.8 L333,344.8 Z" fill="#0070c0" stroke="#0a3a6a" stroke-width="0.8"/>
<path d="M417.4 237.5L419.7 239.8L417.4 242.1L415.1 239.8Z" fill="none" stroke="#0070c0" stroke-width="1.1"/>
<path d="M424.3 240.7L426.6 243.0L424.3 245.3L422.0 243.0Z" fill="none" stroke="#0070c0" stroke-width="1.1"/>
<path d="M369.3 265.5L371.6 267.8L369.3 270.1L367.0 267.8Z" fill="none" stroke="#0070c0" stroke-width="1.1"/>
<path d="M374.6 268.9L376.9 271.2L374.6 273.5L372.3 271.2Z" fill="none" stroke="#0070c0" stroke-width="1.1"/>
<path d="M344.4 279.0L346.7 281.3L344.4 283.6L342.1 281.3Z" fill="none" stroke="#0070c0" stroke-width="1.1"/>
<path d="M372.3 291.4L374.6 293.7L372.3 296.0L370.0 293.7Z" fill="none" stroke="#0070c0" stroke-width="1.1"/>
<path d="M360.5 310.7L362.8 313.0L360.5 315.3L358.2 313.0Z" fill="none" stroke="#0070c0" stroke-width="1.1"/>
<path d="M353.7 315.2L356.0 317.5L353.7 319.8L351.4 317.5Z" fill="none" stroke="#0070c0" stroke-width="1.1"/>
<path d="M362.0 317.2L364.3 319.5L362.0 321.8L359.7 319.5Z" fill="none" stroke="#0070c0" stroke-width="1.1"/>
<path d="M344.4 320.7L346.7 323.0L344.4 325.3L342.1 323.0Z" fill="none" stroke="#0070c0" stroke-width="1.1"/>
<path d="M379.1 314.1L381.4 316.4L379.1 318.7L376.8 316.4Z" fill="none" stroke="#0070c0" stroke-width="1.1"/>
<path d="M385.3 316.2L387.6 318.5L385.3 320.8L383.0 318.5Z" fill="none" stroke="#0070c0" stroke-width="1.1"/>
<path d="M374.4 321.8L376.7 324.1L374.4 326.4L372.1 324.1Z" fill="none" stroke="#0070c0" stroke-width="1.1"/>
<path d="M386.7 324.4L389.0 326.7L386.7 329.0L384.4 326.7Z" fill="none" stroke="#0070c0" stroke-width="1.1"/>
<path d="M356.8 331.7L359.1 334.0L356.8 336.3L354.5 334.0Z" fill="none" stroke="#0070c0" stroke-width="1.1"/>
<path d="M370.2 328.6L372.5 330.9L370.2 333.2L367.9 330.9Z" fill="none" stroke="#0070c0" stroke-width="1.1"/>
<path d="M377.9 331.7L380.2 334.0L377.9 336.3L375.6 334.0Z" fill="none" stroke="#0070c0" stroke-width="1.1"/>
<path d="M338.3 333.7L340.6 336.0L338.3 338.3L336.0 336.0Z" fill="none" stroke="#0070c0" stroke-width="1.1"/>
<path d="M401.2 312.1L403.5 314.4L401.2 316.7L398.9 314.4Z" fill="none" stroke="#0070c0" stroke-width="1.1"/>
<path d="M408.4 312.7L410.7 315.0L408.4 317.3L406.1 315.0Z" fill="none" stroke="#0070c0" stroke-width="1.1"/>
<path d="M341.4 340.2L343.7 342.5L341.4 344.8L339.1 342.5Z" fill="none" stroke="#0070c0" stroke-width="1.1"/>
<path d="M349.3 340.2L351.6 342.5L349.3 344.8L347.0 342.5Z" fill="none" stroke="#0070c0" stroke-width="1.1"/>
<path d="M357.0 340.2L359.3 342.5L357.0 344.8L354.7 342.5Z" fill="none" stroke="#0070c0" stroke-width="1.1"/>
<path d="M354.6 340.2L356.9 342.5L354.6 344.8L352.3 342.5Z" fill="none" stroke="#0070c0" stroke-width="1.1"/>
<path d="M344.5 340.2L346.8 342.5L344.5 344.8L342.2 342.5Z" fill="none" stroke="#0070c0" stroke-width="1.1"/>
<circle cx="423.3" cy="217.6" r="2.3" fill="none" stroke="#000" stroke-width="0.85"/>
<circle cx="417.4" cy="243.5" r="2.3" fill="none" stroke="#000" stroke-width="0.85"/>
<circle cx="374.6" cy="269.6" r="2.3" fill="none" stroke="#000" stroke-width="0.85"/>
<circle cx="378.5" cy="289.2" r="2.3" fill="none" stroke="#000" stroke-width="0.85"/>
<circle cx="386.7" cy="313.3" r="2.3" fill="none" stroke="#000" stroke-width="0.85"/>
<circle cx="360.5" cy="312.3" r="2.3" fill="none" stroke="#000" stroke-width="0.85"/>
<circle cx="344.4" cy="322.0" r="2.3" fill="none" stroke="#000" stroke-width="0.85"/>
<circle cx="377.9" cy="324.1" r="2.3" fill="none" stroke="#000" stroke-width="0.85"/>
<circle cx="344.4" cy="331.5" r="2.3" fill="none" stroke="#000" stroke-width="0.85"/>
<circle cx="353.7" cy="332.9" r="2.3" fill="none" stroke="#000" stroke-width="0.85"/>
<circle cx="373.7" cy="331.9" r="2.3" fill="none" stroke="#000" stroke-width="0.85"/>
<circle cx="369.2" cy="337.1" r="2.3" fill="none" stroke="#000" stroke-width="0.85"/>
<circle cx="373.7" cy="342.2" r="2.3" fill="none" stroke="#000" stroke-width="0.85"/>
<circle cx="399.7" cy="342.2" r="2.3" fill="none" stroke="#000" stroke-width="0.85"/>
<circle cx="408.4" cy="282.0" r="2.3" fill="none" stroke="#000" stroke-width="0.85"/>
<circle cx="348.9" cy="335.4" r="2.3" fill="none" stroke="#000" stroke-width="0.85"/>
<circle cx="345.9" cy="342.0" r="2.3" fill="none" stroke="#000" stroke-width="0.85"/>
<circle cx="338.2" cy="330.2" r="2.3" fill="none" stroke="#000" stroke-width="0.85"/>
<circle cx="358.6" cy="334.8" r="2.3" fill="none" stroke="#000" stroke-width="0.85"/>
<circle cx="340.8" cy="334.0" r="2.3" fill="none" stroke="#000" stroke-width="0.85"/>
<rect x="422.1" y="255.2" width="3.3" height="3.3" fill="#c00000"/>
<rect x="406.5" y="268.6" width="3.3" height="3.3" fill="#c00000"/>
<rect x="400.0" y="272.8" width="3.3" height="3.3" fill="#c00000"/>
<rect x="342.8" y="297.2" width="3.3" height="3.3" fill="#c00000"/>
<rect x="376.9" y="301.0" width="3.3" height="3.3" fill="#c00000"/>
<rect x="385.1" y="305.5" width="3.3" height="3.3" fill="#c00000"/>
<rect x="372.8" y="319.6" width="3.3" height="3.3" fill="#c00000"/>
<rect x="359.8" y="325.1" width="3.3" height="3.3" fill="#c00000"/>
<rect x="353.2" y="326.2" width="3.3" height="3.3" fill="#c00000"/>
<rect x="368.6" y="328.2" width="3.3" height="3.3" fill="#c00000"/>
<rect x="372.8" y="336.5" width="3.3" height="3.3" fill="#c00000"/>
<rect x="367.6" y="340.6" width="3.3" height="3.3" fill="#c00000"/>
<rect x="383.7" y="340.6" width="3.3" height="3.3" fill="#c00000"/>
<rect x="336.7" y="335.5" width="3.3" height="3.3" fill="#c00000"/>
<rect x="416.1" y="309.7" width="3.3" height="3.3" fill="#c00000"/>
<rect x="334.6" y="329.7" width="3.3" height="3.3" fill="#c00000"/>
<rect x="343.8" y="336.6" width="3.3" height="3.3" fill="#c00000"/>
<rect x="337.7" y="329.7" width="3.3" height="3.3" fill="#c00000"/>
<rect x="339.9" y="337.4" width="3.3" height="3.3" fill="#c00000"/>
<rect x="337.9" y="337.2" width="3.3" height="3.3" fill="#c00000"/>
<rect x="350.2" y="330.0" width="3.3" height="3.3" fill="#c00000"/>
<line x1="335.8" y1="342.9" x2="372.5" y2="305.2" stroke="#f0a020" stroke-width="1.1"/>
<rect x="463" y="209.6" width="2.2" height="2.2" fill="#f0a020"/>
<rect x="390.5" y="376.2" width="1.6" height="1.8" fill="#333"/>
<line x1="335" y1="342.9" x2="464" y2="210.6" stroke="#1a1a1a" stroke-width="1.05"/>
<line x1="335" y1="342.9" x2="464" y2="258.7" stroke="#c00000" stroke-width="1.5" stroke-dasharray="4,2.5"/>
<line x1="335" y1="343.5" x2="464" y2="242" stroke="#000" stroke-width="1.7" stroke-dasharray="4,3"/>
<line x1="335" y1="342.9" x2="464" y2="238.7" stroke="#00b0f0" stroke-width="1.5"/>
</g>
</svg></body></html>
